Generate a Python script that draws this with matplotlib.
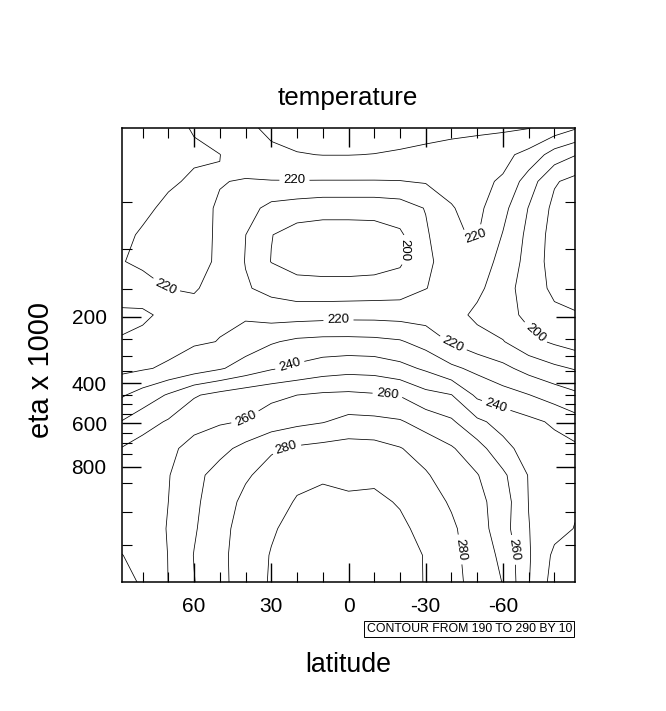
import numpy as np
import matplotlib
matplotlib.use("Agg")
import matplotlib.pyplot as plt

plt.rcParams['font.family'] = ['Liberation Sans', 'DejaVu Sans']

# ---------------------------------------------------------------- data
lat = [88, 80, 70, 60, 50, 40, 30, 20, 10, 0, -10, -20, -30, -40, -50, -60, -70, -80, -88]
lev = [5, 15, 30, 56, 84, 115, 149, 196, 257, 338, 450, 593, 727, 835, 884, 926, 965, 992]

# temperature (K), one row per level, columns follow lat
temp = np.array([
    [215, 216, 218, 220.5, 224, 228, 232, 234, 235, 235, 235, 234, 233, 232.5, 232, 231.5, 230.3, 226, 221],
    [216, 217, 218, 219, 219.9, 224, 228, 229.5, 230.2, 230.2, 229.8, 229, 228, 226.5, 225, 222.5, 217, 205.5, 200.5],
    [217, 217.5, 219, 221, 220.3, 219.5, 219.6, 219.6, 219.5, 219.5, 219.5, 219.7, 220.8, 222, 222, 219, 205, 191, 187],
    [217, 218.5, 221.5, 222, 219.3, 214, 207, 205, 203.5, 203.5, 203.5, 205, 210.5, 219.6, 222.5, 213, 199.6, 187.5, 185],
    [218.5, 220.8, 222, 222, 219.2, 210.1, 200.3, 196, 195.5, 195.5, 196, 198.5, 208.5, 219.2, 220.6, 209.5, 197.5, 186, 184],
    [219.8, 221, 222, 221.5, 219.3, 209.6, 199.7, 196, 195.5, 195.5, 196, 198.5, 208.2, 214, 213.5, 208, 196, 186, 184],
    [214, 218, 220.1, 220.5, 218, 211, 207, 204, 203.5, 203.5, 204, 205, 209.8, 213, 212.2, 204.5, 195, 188, 186],
    [208.5, 207.5, 213.5, 218, 219, 218.5, 216, 216, 216.5, 217, 217, 216.5, 216, 213.5, 208, 204, 197.5, 192, 190.8],
    [210.5, 214, 216.5, 219, 220.2, 225, 229, 232, 233, 233, 232.5, 231, 226, 219, 213.5, 210.5, 203, 198.5, 195.5],
    [217.5, 219, 221.5, 225, 229, 234, 239, 242, 245, 246.5, 246, 243, 238.5, 232, 227.5, 222.5, 216.5, 212, 209.3],
    [229, 234, 241, 249, 253, 256, 258, 260, 261.5, 262, 261, 259.5, 253, 250.3, 238, 234, 230.3, 225.5, 222],
    [240.5, 246, 251, 257, 259, 260.5, 264.5, 267.5, 269.5, 273, 272.5, 271, 266, 261.5, 252, 246.5, 242.5, 238.5, 234],
    [250.5, 254, 258, 263, 267, 273, 279, 281.5, 283, 284, 283.5, 280.5, 276, 271, 264, 253, 246, 243.5, 242],
    [254, 256, 259.5, 267, 274, 279, 283, 287.5, 289, 288.5, 288, 285, 281, 275, 270.5, 262, 249.5, 245, 244],
    [255, 256.5, 260, 268, 276, 282, 286, 290.8, 292, 291, 292, 289.2, 284, 279, 273, 265, 249.8, 244, 241],
    [254, 255, 260.5, 269, 277, 284, 289, 293, 294, 294, 294, 292, 287, 281.5, 275, 264, 250.3, 243, 239.7],
    [249.8, 253, 260.2, 270.3, 277.5, 285, 290.5, 294, 295, 295, 295, 293.5, 289.5, 283, 275, 268, 251, 238, 236],
    [246, 251.5, 260.1, 269.7, 277.5, 284.5, 291, 295, 296, 296, 296, 294, 289.5, 283.5, 276, 269.7, 250.5, 236, 235],
])

plain_levels = [190, 210, 230, 250, 270, 290]
label_levels = [200, 220, 240, 260, 280]

ytick_major = [200, 400, 600, 800]
ytick_minor = [50, 100, 150, 250, 300, 350, 450, 500, 550, 650, 700, 750, 850, 900, 950]
xtick_major = [60, 30, 0, -30, -60]
xtick_labels = ["60", "30", "0", "-30", "-60"]
xtick_minor = [80, 70, 50, 40, 20, 10, -10, -20, -40, -50, -70, -80]

# where the line labels sit: (latitude, eta x 1000)
label_spots = [(21, 28.7), (71.3, 148.7), (-22.6, 101.7), (-48.7, 95.8), (3.9, 207.6),
               (-40.1, 273), (-71.5, 244), (23.8, 304), (-15.2, 445.5), (-57.3, 508.6),
               (40.1, 573), (24.5, 700), (-42.5, 957), (-64.3, 957)]


####################################################### index axis (irregular levels)
idx = np.arange(len(lev))
def eta_to_y(v):
    return np.interp(v, lev, idx)

x = np.array(lat[::-1], dtype=float)
z = temp[:, ::-1]

fig = plt.figure(figsize=(6.66, 7.11), dpi=100)
ax = fig.add_axes([122/666, 1-582/711, 453/666, 454/711])

ax.contour(x, idx, z, levels=plain_levels, colors='black', linewidths=0.55)
cs = ax.contour(x, idx, z, levels=label_levels, colors='black', linewidths=0.55)
spots = [(a, float(eta_to_y(b))) for a, b in label_spots]
ax.clabel(cs, fmt='%d', fontsize=9.5, inline=True, inline_spacing=4, manual=spots)

ax.set_xlim(lat[0], lat[-1])
ax.set_ylim(idx[-1], idx[0])

ax.set_xticks(xtick_major)
ax.set_xticklabels(xtick_labels)
ax.set_xticks(xtick_minor, minor=True)
ax.set_yticks(eta_to_y(ytick_major))
ax.set_yticklabels([str(v) for v in ytick_major])
ax.set_yticks(eta_to_y(ytick_minor), minor=True)

ax.tick_params(which='both', direction='in', top=True, right=True, labelsize=15, pad=11)
ax.tick_params(which='major', length=14, width=1)
ax.tick_params(which='minor', length=7, width=0.8)
for s in ax.spines.values():
    s.set_linewidth(1.1)

fig.text(348/666, 1-98/711, "temperature", ha='center', va='center', fontsize=18.7)
fig.text(348/666, 1-665/711, "latitude", ha='center', va='center', fontsize=19.3)
fig.text(41/666, 1-370/711, "eta x 1000", ha='center', va='center', rotation=90, fontsize=21)
fig.text(572/666, 1-629/711, "CONTOUR FROM 190 TO 290 BY 10", ha='right', va='center',
         fontsize=8.8, bbox=dict(boxstyle='square,pad=0.2', fc='white', ec='black', lw=0.7))

fig.savefig("out.png", dpi=100)
